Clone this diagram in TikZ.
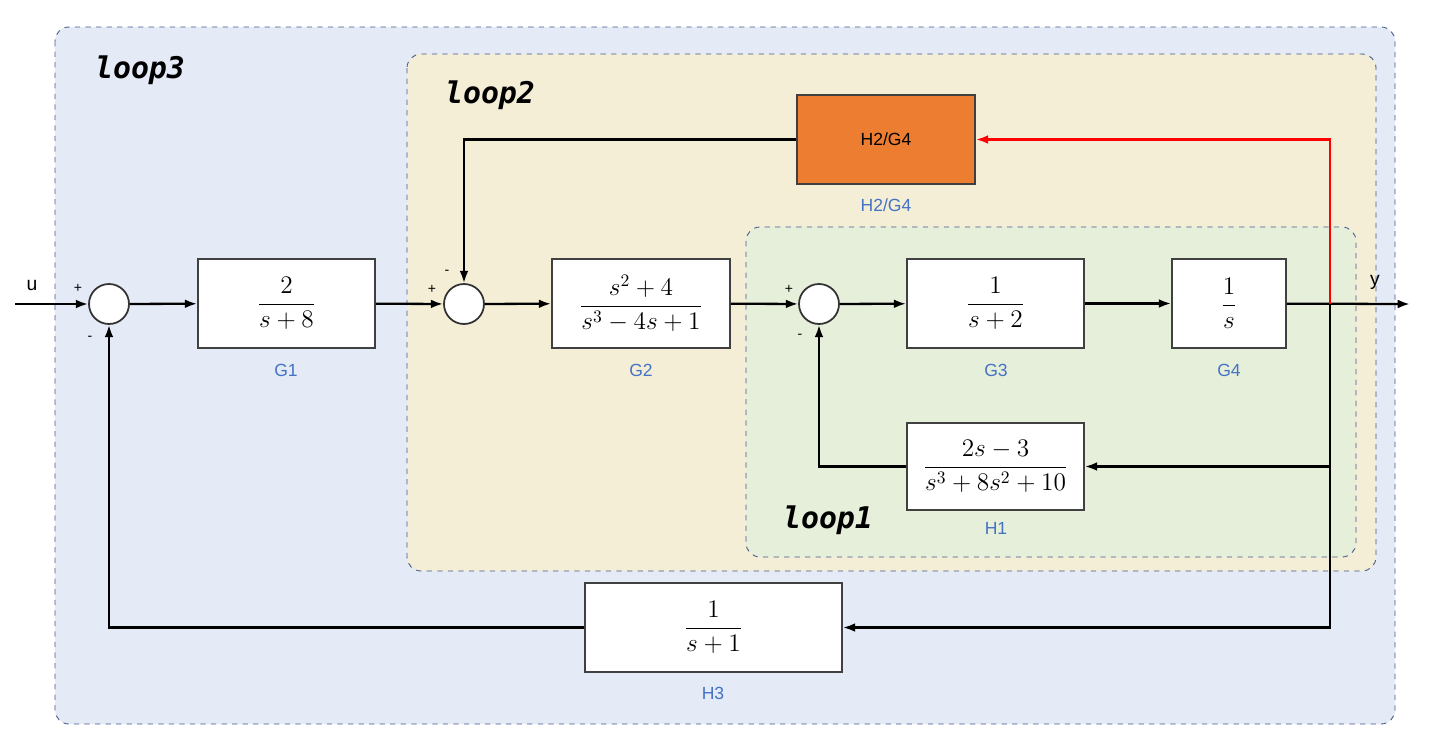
\documentclass[tikz,border=0pt]{standalone}
\usepackage{amsmath}
\usepackage{fontspec}
\setmainfont{Liberation Sans}
\newfontfamily\loopfont{DejaVu Sans Mono}
\usetikzlibrary{arrows.meta}
\definecolor{bg3}{RGB}{228,234,246}
\definecolor{bg2}{RGB}{245,238,215}
\definecolor{bg1}{RGB}{230,239,218}
\definecolor{dashc}{RGB}{68,90,140}
\definecolor{lblue}{RGB}{68,114,196}
\definecolor{orng}{RGB}{237,125,49}
\begin{document}
\begin{tikzpicture}[x=0.02cm,y=-0.02cm,
  grp/.style={draw=dashc,dashed,rounded corners=8pt,line width=0.5pt},
  blk/.style={draw=black!75,fill=white,line width=1pt,minimum width=#1*0.02cm,minimum height=89*0.02cm,font=\fontsize{14}{16}\selectfont},
  sum/.style={circle,draw=black!80,fill=white,line width=1pt,minimum size=40*0.02cm,inner sep=0},
  lbl/.style={text=lblue,font=\fontsize{10}{12}\selectfont},
  sg/.style={font=\fontsize{8}{9}\selectfont},
  lp/.style={font=\loopfont\bfseries\itshape\fontsize{17}{20}\selectfont},
  wire/.style={line width=1.3pt},
  arr/.style={wire,-{Latex[length=7pt,width=5pt]}}]
\useasboundingbox (0,0) rectangle (1440,741);
\draw[grp,fill=bg3] (55,27) rectangle (1395,724);
\draw[grp,fill=bg2] (407,54) rectangle (1376,571);
\draw[grp,fill=bg1] (746,227) rectangle (1356,557);
\node[lp] (l3) at (140,70) {loop3};
\node[lp] (l2) at (490,95) {loop2};
\node[lp] (l1) at (828,520) {loop1};
\node[sum] (s1) at (109,304) {};
\node[sum] (s2) at (464,304) {};
\node[sum] (s3) at (819,304) {};
\node[blk=177] (G1) at (286.5,303.5) {$\dfrac{2}{s+8}$};
\node[blk=178] (G2) at (641,303.5) {$\dfrac{s^2+4}{s^3-4s+1}$};
\node[blk=177] (G3) at (995.5,303.5) {$\dfrac{1}{s+2}$};
\node[blk=114] (G4) at (1229,303.5) {$\dfrac{1}{s}$};
\node[blk=177,minimum height=87*0.02cm] (H1) at (995.5,466.5) {$\dfrac{2s-3}{s^3+8s^2+10}$};
\node[blk=257] (H3) at (713.5,627.5) {$\dfrac{1}{s+1}$};
\node[blk=178,fill=orng,font=\fontsize{10}{12}\selectfont] (H2) at (886,139.5) {H2/G4};
\node[lbl] at (286,370) {G1};
\node[lbl] at (641,370) {G2};
\node[lbl] at (996,370) {G3};
\node[lbl] at (1229,370) {G4};
\node[lbl] at (996,528) {H1};
\node[lbl] at (713,693) {H3};
\node[lbl] at (886,205) {H2/G4};
\node[font=\fontsize{11}{12}\selectfont] (u) at (32,285) {u};
\node[font=\fontsize{11}{12}\selectfont] (y) at (1375,282) {y};
\node[sg] at (78,288) {+};
\node[sg] at (90,338) {-};
\node[sg] at (432,289) {+};
\node[sg] at (447,272) {-};
\node[sg] at (789,289) {+};
\node[sg] at (800,336) {-};
\coordinate (in) at (15,304);
\coordinate (out) at (1410,304);
\coordinate (br) at (1330,304);
\draw[arr] (in) -- (s1);
\draw[arr] (s1) -- (G1);
\draw[arr] (G1) -- (s2);
\draw[arr] (s2) -- (G2);
\draw[arr] (G2) -- (s3);
\draw[arr] (s3) -- (G3);
\draw[arr] (G3) -- (G4);
\draw[arr] (G4) -- (out);
\draw[arr,red] (br) |- (H2);
\draw[arr] (H2) -| (s2);
\draw[arr] (br) |- (H1);
\draw[arr] (H1) -| (s3);
\draw[arr] (br) |- (H3);
\draw[arr] (H3) -| (s1);
\end{tikzpicture}
\end{document}
